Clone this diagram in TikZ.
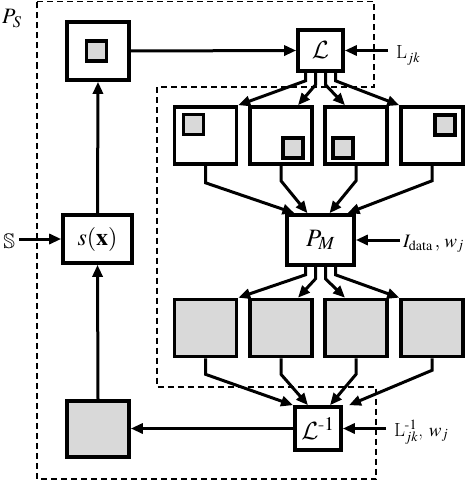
\documentclass[tikz,border=0pt]{standalone}
\usepackage{amsmath,amssymb}
\usepackage{mathptmx}
\DeclareMathAlphabet{\mathcal}{OMS}{cmsy}{m}{n}
\usetikzlibrary{arrows.meta,calc}
\definecolor{lgray}{RGB}{217,217,217}
\tikzset{
  box/.style={draw, line width=3.6pt, minimum width=62pt, minimum height=57pt, inner sep=0pt, fill=white},
  gbox/.style={box, fill=lgray},
  sq/.style={draw, line width=3.2pt, fill=lgray, minimum size=20pt, inner sep=0pt},
  arr/.style={line width=3pt, -{Triangle[length=12pt,width=10pt]}},
  dashline/.style={line width=1.8pt, dash pattern=on 6pt off 4pt},
  lab/.style={inner sep=0pt, outer sep=8pt, anchor=base west, font=\fontsize{19}{23}\selectfont},
}
\begin{document}
\begin{tikzpicture}[x=1pt,y=-1pt]
\useasboundingbox (0,0) rectangle (474,481);
\draw[dashline] (37,1.5) -- (374,1.5) -- (374,87) -- (157,87) -- (157,387) -- (376,387) -- (376,479) -- (37,479) -- cycle;

% nodes
\node[box, minimum width=62pt, minimum height=58pt] (tl) at (98,51) {};
\node[sq] (tls) at (96.5,51) {};
\node[box, minimum width=45pt, minimum height=41pt, font=\fontsize{26}{30}\selectfont] (L) at (320.5,50.5) {$\mathcal{L}$};

\node[box] (a1) at (205.5,135.5) {};
\node[box] (a2) at (281,135.5) {};
\node[box] (a3) at (356,135.5) {};
\node[box] (a4) at (432,135.5) {};
\node[sq] (s1) at (193.5,124.5) {};
\node[sq] (s2) at (293,148) {};
\node[sq] (s3) at (343,148) {};
\node[sq] (s4) at (445,125) {};

\node[box, minimum width=67pt, minimum height=50pt, font=\fontsize{25}{29}\selectfont] (PM) at (320.5,240) {$P_M$};

\node[gbox] (g1) at (205.5,328) {};
\node[gbox] (g2) at (281,328) {};
\node[gbox] (g3) at (356,328) {};
\node[gbox] (g4) at (432,328) {};

\node[box, minimum width=46pt, minimum height=43pt, font=\fontsize{26}{30}\selectfont] (Li) at (318,428.5) {$\mathcal{L}^{\text{-}1}$};
\node[gbox, minimum width=62pt, minimum height=56pt] (bl) at (98,429) {};
\node[box, minimum width=69pt, minimum height=48pt, font=\fontsize{24}{28}\selectfont] (sx) at (97.5,239) {$s(\mathbf{x})$};

% labels
\node[inner sep=0pt, outer sep=4pt, anchor=base east, font=\fontsize{21}{25}\selectfont] (S) at (19,248) {$\mathbb{S}$};
\node[inner sep=0pt, anchor=base west, font=\fontsize{22}{26}\selectfont] (PS) at (2,24) {$P_S$};
\node[lab] (Ljk) at (388,59) {L$_{jk}$};
\node[lab, outer sep=3pt] (Id) at (400,247) {$I_{\mathrm{data}}\,,\, w_j$};
\node[lab] (Lik) at (386,436) {L$^{\text{-}1}_{jk}$, $w_j$};

% connectors
\draw[arr] (tl.east) -- (L.west);
\draw[arr] (sx.north) -- (tl.south);
\draw[arr] (bl.north) -- (sx.south);
\draw[arr] (Li.west) -- (Li.west -| bl.east);
\draw[arr] (S.east |- sx.west) -- (sx.west);
\draw[arr] (Ljk.west |- L.east) -- (L.east);
\draw[arr] (Id.west |- PM.east) -- (PM.east);
\draw[arr] (Lik.west |- Li.east) -- (Li.east);

\draw[arr] ($(L.south)+(-15,0)$) -- ++(0,8) -- (a1.north east);
\draw[arr] ($(L.south)+(-5,0)$) -- ++(0,12) -- ($(a2.north)+(17,0)$);
\draw[arr] ($(L.south)+(5,0)$) -- ++(0,12) -- ($(a3.north)+(-11,0)$);
\draw[arr] ($(L.south)+(15,0)$) -- ++(0,8) -- (a4.north west);

\draw[arr] (a1.south) -- ++(0,17) -- ($(PM.north)+(-26,0)$);
\draw[arr] (a2.south) -- ++(0,15) -- ($(PM.north)+(-13,0)$);
\draw[arr] (a3.south) -- ++(0,15) -- ($(PM.north)+(9,0)$);
\draw[arr] (a4.south) -- ++(0,15) -- ($(PM.north)+(27,0)$);

\draw[arr] ($(PM.south)+(-15,0)$) -- ++(0,8) -- (g1.north east);
\draw[arr] ($(PM.south)+(-5,0)$) -- ++(0,12) -- ($(g2.north)+(17,0)$);
\draw[arr] ($(PM.south)+(5,0)$) -- ++(0,12) -- ($(g3.north)+(-11,0)$);
\draw[arr] ($(PM.south)+(15,0)$) -- ++(0,8) -- (g4.north west);

\draw[arr] (g1.south) -- ++(0,16) -- ($(Li.north)+(-25,0)$);
\draw[arr] (g2.south) -- ++(0,16) -- ($(Li.north)+(-10,0)$);
\draw[arr] (g3.south) -- ++(0,16) -- ($(Li.north)+(12,0)$);
\draw[arr] (g4.south) -- ++(0,12) -- ($(Li.north)+(31,0)$);
\end{tikzpicture}
\end{document}
